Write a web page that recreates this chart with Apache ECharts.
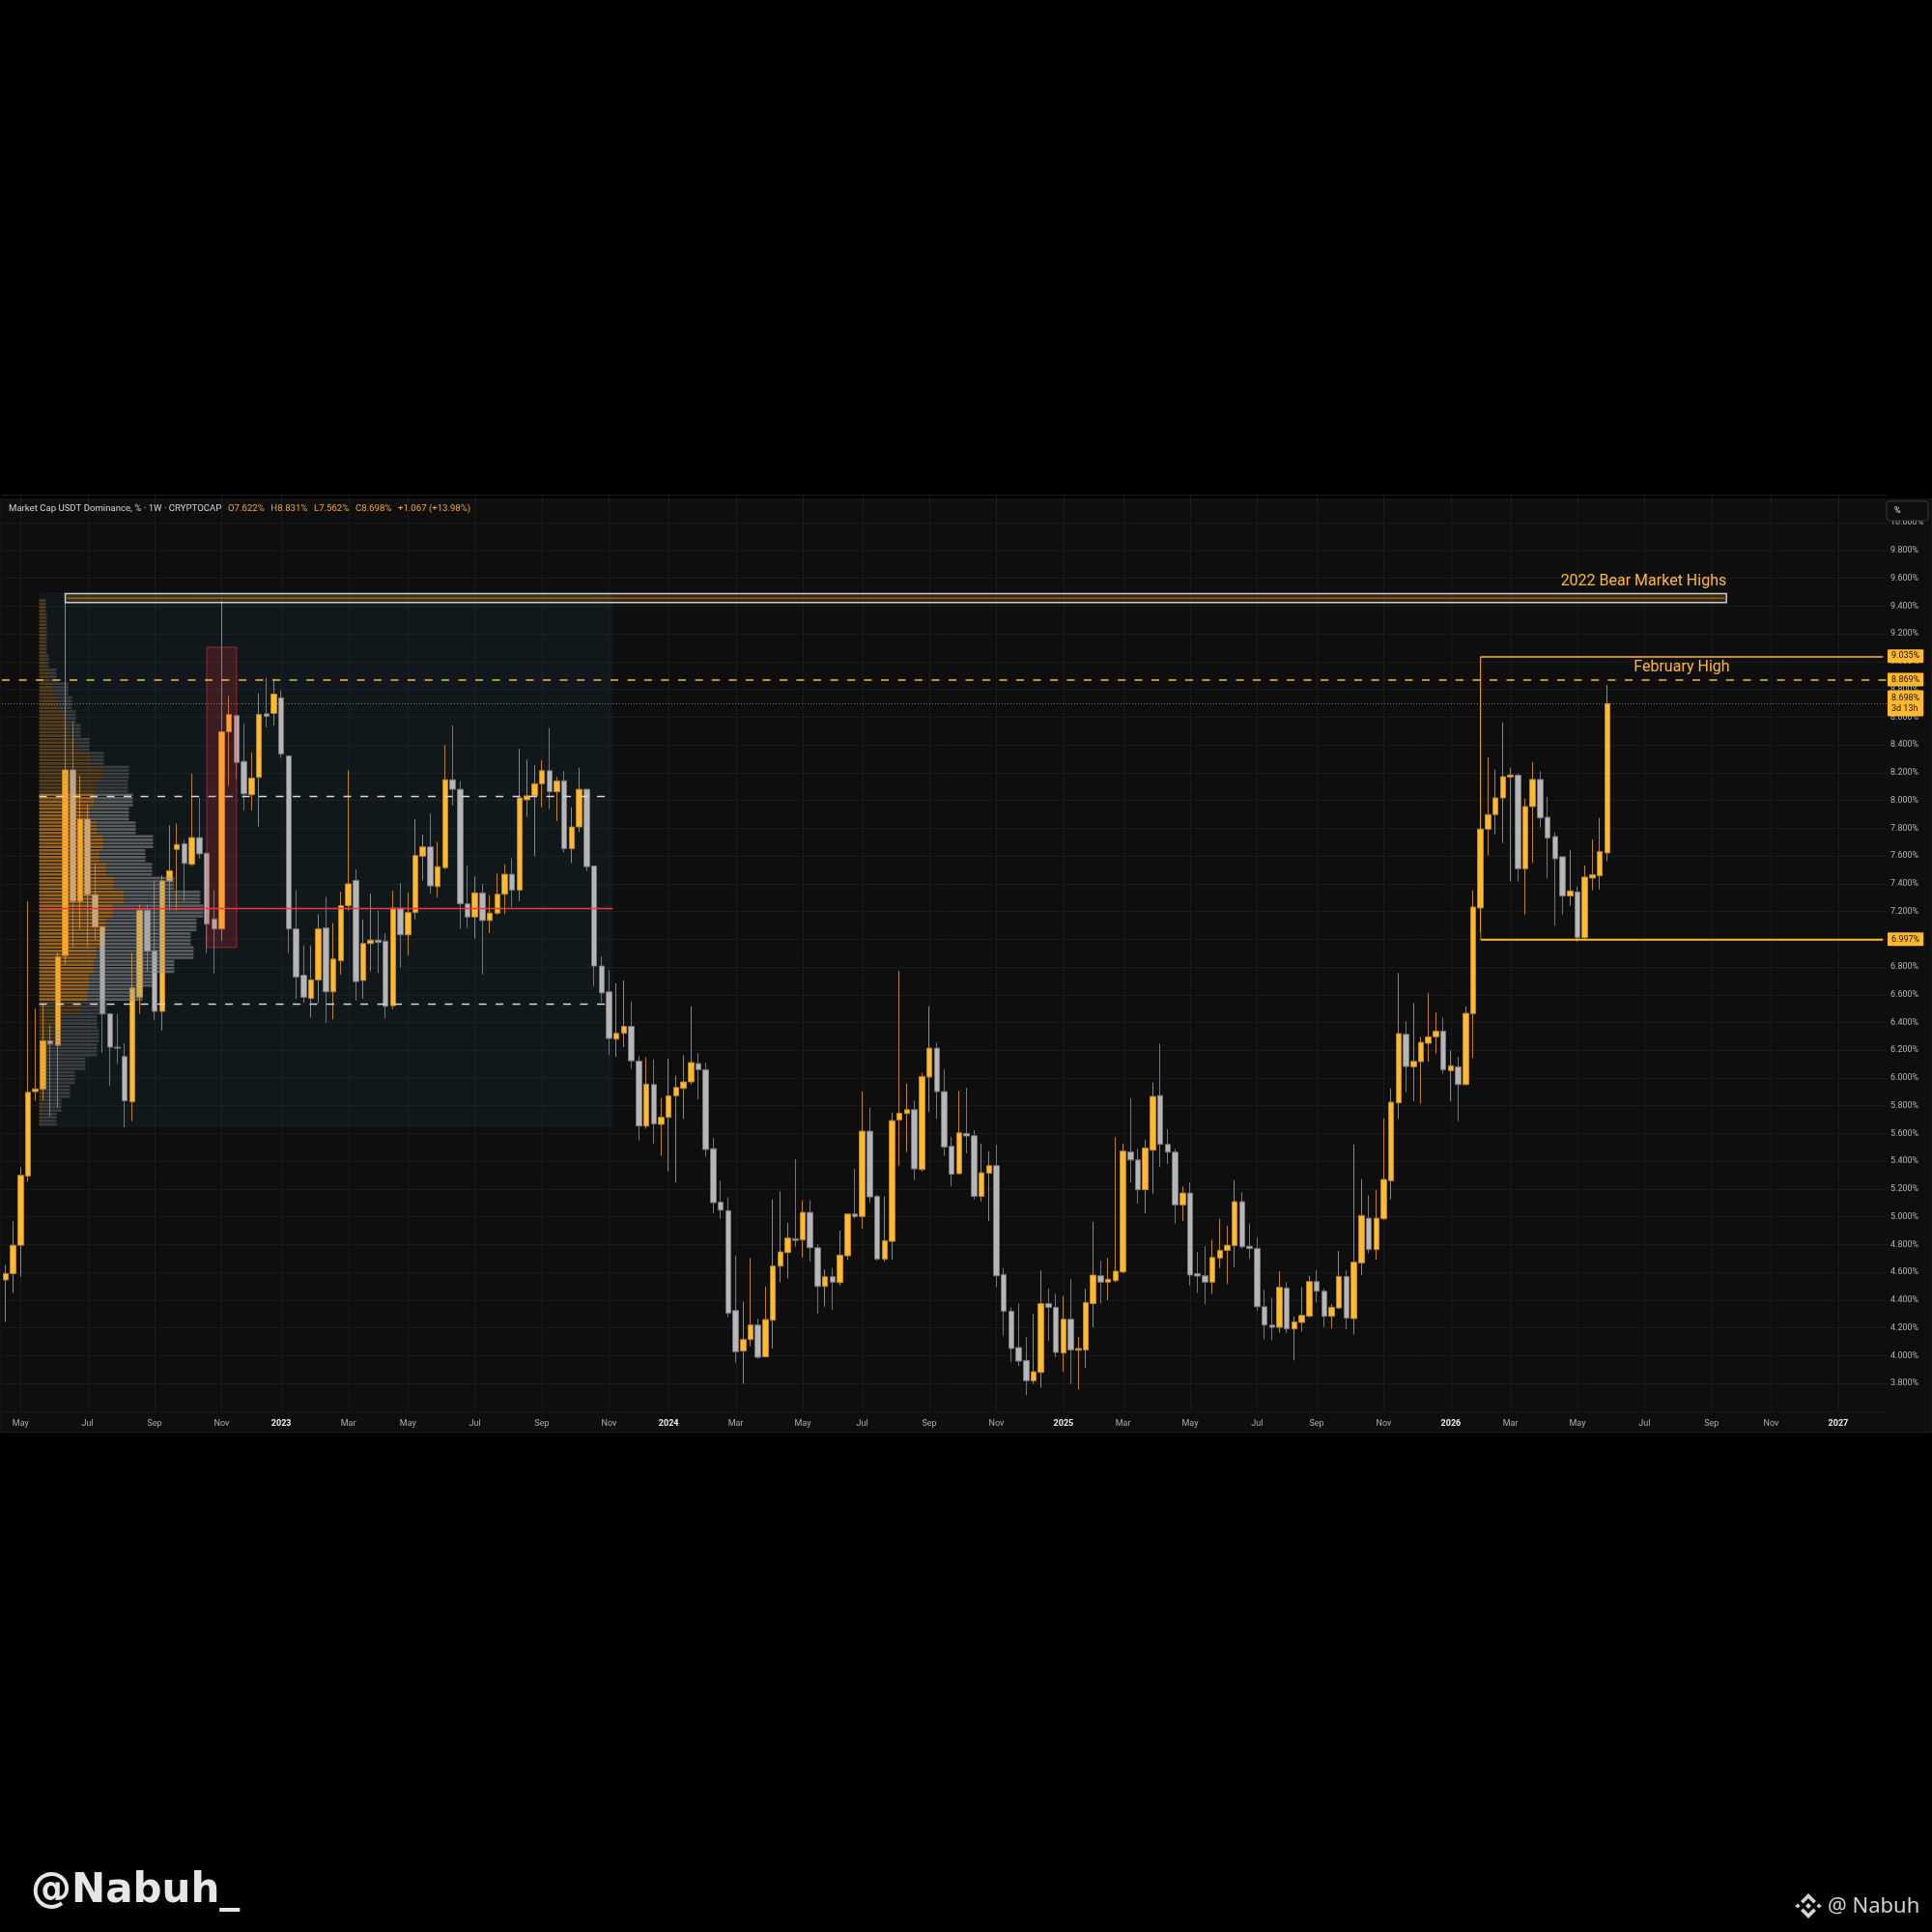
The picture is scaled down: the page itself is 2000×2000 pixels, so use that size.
<!DOCTYPE html>
<html>
<head>
<meta charset="utf-8">
<title>Market Cap USDT Dominance</title>
<script src="https://cdn.jsdelivr.net/npm/echarts@6/dist/echarts.min.js"></script>
<style>
  html, body { margin: 0; padding: 0; background: #000; }
  #chart { width: 2000px; height: 2000px; }
</style>
</head>
<body>
<div id="chart"></div>
<script>
// weekly bars, the first one is the week of 18 Apr 2022
var firstWeek = Date.UTC(2022, 3, 18);
var weekCount = 253; // axis runs on into Feb 2027

var open = [
  4.545, 4.591, 4.795, 5.294, 5.902, 5.921, 6.267, 6.235, 6.882, 8.220, 7.274, 7.865,
  7.322, 7.088, 6.462, 6.222, 6.155, 5.830, 6.582, 7.207, 6.915, 6.480, 7.420, 7.647,
  7.687, 7.540, 7.732, 7.620, 7.146, 7.074, 8.494, 8.611, 8.281, 8.041, 8.166, 8.624,
  8.627, 8.739, 8.321, 7.074, 6.741, 6.574, 6.707, 7.081, 6.621, 6.845, 7.242, 7.424,
  6.703, 6.969, 6.994, 6.986, 6.521, 7.225, 7.031, 7.192, 7.598, 7.665, 7.379, 7.516,
  8.149, 8.080, 7.255, 7.160, 7.334, 7.135, 7.188, 7.324, 7.468, 7.354, 8.005, 8.033,
  8.120, 8.214, 8.063, 8.142, 7.652, 7.809, 8.080, 7.528, 6.807, 6.621, 6.280, 6.322,
  6.372, 6.122, 5.654, 5.953, 5.666, 5.717, 5.872, 5.925, 5.972, 6.104, 6.060, 5.491,
  5.106, 5.044, 4.325, 4.034, 4.116, 4.220, 3.992, 4.255, 4.645, 4.742, 4.842, 4.835,
  5.032, 4.777, 4.498, 4.568, 4.526, 4.719, 5.020, 5.002, 5.617, 5.148, 4.696, 4.823,
  5.698, 5.744, 5.772, 5.341, 6.007, 6.215, 5.902, 5.508, 5.311, 5.601, 5.584, 5.148,
  5.315, 5.369, 4.584, 4.320, 4.058, 3.965, 3.819, 3.879, 4.375, 4.348, 4.019, 4.262,
  4.039, 4.041, 4.375, 4.575, 4.529, 4.540, 4.603, 5.468, 5.410, 5.195, 5.480, 5.874,
  5.522, 5.466, 5.086, 5.171, 4.591, 4.575, 4.529, 4.703, 4.758, 4.793, 5.109, 4.788,
  4.772, 4.352, 4.220, 4.204, 4.487, 4.192, 4.239, 4.285, 4.533, 4.464, 4.283, 4.343,
  4.570, 4.267, 4.668, 4.990, 4.765, 4.986, 5.260, 5.821, 6.315, 6.081, 6.118, 6.250,
  6.297, 6.338, 6.053, 6.081, 5.953, 6.464, 7.225, 7.793, 7.898, 8.018, 8.169, 8.181,
  7.508, 7.956, 8.151, 7.879, 7.740, 7.594, 7.311, 7.341, 7.011, 7.441, 7.457, 7.622
];
var high = [
  4.654, 4.967, 5.355, 7.274, 6.502, 6.528, 6.382, 6.907, 9.440, 8.566, 8.180, 7.967,
  7.550, 7.101, 6.470, 6.462, 6.249, 6.901, 7.250, 7.248, 7.420, 7.461, 7.820, 7.833,
  7.714, 8.193, 8.020, 7.620, 7.354, 9.440, 8.752, 8.620, 8.552, 8.345, 8.771, 8.885,
  8.877, 8.792, 8.326, 7.354, 6.955, 6.955, 7.181, 7.304, 7.118, 7.342, 8.217, 7.503,
  7.143, 7.329, 7.205, 7.043, 7.349, 7.404, 7.334, 7.864, 7.752, 7.906, 7.702, 8.398,
  8.540, 8.137, 7.528, 7.453, 7.399, 7.317, 7.473, 7.540, 7.583, 8.373, 8.294, 8.254,
  8.289, 8.522, 8.169, 8.212, 7.951, 8.234, 8.085, 7.528, 6.877, 6.777, 6.683, 6.703,
  6.551, 6.157, 6.150, 6.134, 5.856, 6.139, 6.018, 6.162, 6.517, 6.181, 6.111, 5.570,
  5.260, 5.141, 4.719, 4.389, 4.703, 4.266, 4.498, 5.125, 5.183, 4.956, 5.415, 5.120,
  5.120, 4.805, 4.621, 4.631, 4.900, 5.027, 5.345, 5.902, 5.786, 5.160, 5.148, 5.751,
  6.772, 5.960, 5.837, 6.037, 6.517, 6.255, 6.064, 5.577, 5.907, 5.930, 5.624, 5.526,
  5.473, 5.519, 4.631, 4.348, 4.375, 4.134, 4.301, 4.614, 4.482, 4.445, 4.429, 4.552,
  4.134, 4.482, 4.962, 4.684, 4.703, 5.573, 5.526, 5.856, 5.489, 5.554, 5.965, 6.246,
  5.631, 5.489, 5.218, 5.248, 4.747, 4.788, 4.835, 4.986, 4.935, 5.264, 5.178, 4.951,
  4.853, 4.475, 4.417, 4.608, 4.529, 4.283, 4.492, 4.575, 4.615, 4.482, 4.371, 4.754,
  4.615, 5.519, 5.271, 5.155, 5.194, 5.709, 5.925, 6.756, 6.408, 6.540, 6.297, 6.614,
  6.475, 6.436, 6.199, 6.153, 6.517, 7.352, 9.035, 8.311, 8.222, 8.563, 8.234, 8.195,
  8.014, 8.276, 8.211, 8.025, 7.770, 7.596, 7.642, 7.380, 7.531, 7.719, 7.874, 8.831
];
var low = [
  4.243, 4.452, 4.568, 5.253, 5.837, 5.841, 5.720, 5.786, 6.821, 6.941, 7.074, 6.949,
  6.990, 6.182, 5.942, 6.102, 5.644, 5.689, 6.462, 6.768, 6.420, 6.342, 7.207, 7.207,
  7.274, 7.527, 7.580, 6.901, 6.755, 6.986, 8.105, 8.153, 7.927, 7.927, 7.812, 8.526,
  8.539, 8.307, 6.901, 6.568, 6.541, 6.435, 6.541, 6.397, 6.422, 6.745, 7.205, 6.559,
  6.571, 6.770, 6.757, 6.429, 6.496, 6.795, 6.882, 7.143, 7.424, 7.329, 7.299, 7.503,
  7.963, 7.075, 7.081, 7.006, 6.745, 7.043, 7.175, 7.180, 7.230, 7.274, 7.881, 7.598,
  7.951, 7.938, 7.851, 7.627, 7.548, 7.772, 7.491, 6.663, 6.546, 6.166, 6.153, 6.223,
  6.066, 5.550, 5.635, 5.524, 5.438, 5.327, 5.246, 5.705, 5.953, 5.849, 5.434, 5.027,
  4.986, 4.278, 3.949, 3.795, 4.069, 3.977, 3.988, 4.051, 4.529, 4.556, 4.784, 4.707,
  4.677, 4.301, 4.352, 4.329, 4.505, 4.691, 4.986, 4.916, 5.101, 4.684, 4.677, 4.691,
  5.369, 5.466, 5.264, 5.327, 5.758, 5.705, 5.438, 5.218, 5.306, 5.457, 5.125, 5.109,
  4.969, 4.492, 4.143, 3.953, 3.926, 3.714, 3.796, 3.768, 4.104, 3.988, 3.884, 3.796,
  3.756, 3.911, 4.204, 4.375, 4.399, 4.529, 4.591, 5.246, 5.095, 5.025, 5.167, 5.357,
  5.380, 4.951, 4.969, 4.505, 4.452, 4.371, 4.445, 4.631, 4.515, 4.638, 4.770, 4.696,
  4.324, 4.116, 4.111, 4.167, 4.162, 3.965, 4.174, 4.273, 4.382, 4.204, 4.197, 4.336,
  4.190, 4.151, 4.580, 4.737, 4.691, 4.979, 5.125, 5.705, 5.898, 5.833, 5.814, 6.118,
  6.176, 6.030, 5.833, 5.689, 5.949, 6.146, 7.050, 7.603, 7.758, 7.693, 7.417, 7.415,
  7.178, 7.550, 7.805, 7.438, 7.097, 7.178, 7.241, 6.981, 6.993, 7.352, 7.359, 7.562
];
var close = [
  4.591, 4.795, 5.299, 5.897, 5.921, 6.267, 6.245, 6.874, 8.220, 7.274, 7.865, 7.322,
  7.088, 6.462, 6.222, 6.215, 5.836, 6.648, 7.207, 6.915, 6.480, 7.420, 7.493, 7.682,
  7.546, 7.732, 7.615, 7.109, 7.074, 8.494, 8.619, 8.273, 8.047, 8.161, 8.619, 8.606,
  8.766, 8.334, 7.074, 6.728, 6.582, 6.707, 7.074, 6.621, 6.857, 7.242, 7.399, 6.695,
  6.969, 6.994, 6.976, 6.516, 7.225, 7.031, 7.192, 7.603, 7.665, 7.384, 7.523, 8.149,
  8.080, 7.255, 7.160, 7.334, 7.135, 7.188, 7.324, 7.468, 7.354, 8.018, 8.033, 8.120,
  8.214, 8.063, 8.140, 7.652, 7.809, 8.080, 7.523, 6.807, 6.613, 6.285, 6.322, 6.372,
  6.124, 5.654, 5.956, 5.670, 5.717, 5.872, 5.932, 5.972, 6.111, 6.060, 5.485, 5.102,
  5.048, 4.306, 4.028, 4.116, 4.220, 3.988, 4.260, 4.645, 4.747, 4.847, 4.830, 5.032,
  4.777, 4.498, 4.568, 4.529, 4.724, 5.020, 5.002, 5.617, 5.143, 4.696, 4.828, 5.693,
  5.747, 5.772, 5.345, 6.011, 6.215, 5.902, 5.503, 5.306, 5.605, 5.582, 5.148, 5.317,
  5.369, 4.575, 4.320, 4.051, 3.960, 3.819, 3.884, 4.375, 4.348, 4.023, 4.262, 4.041,
  4.051, 4.382, 4.580, 4.529, 4.550, 4.608, 5.473, 5.410, 5.195, 5.496, 5.867, 5.522,
  5.466, 5.086, 5.171, 4.580, 4.573, 4.529, 4.707, 4.758, 4.795, 5.109, 4.784, 4.772,
  4.352, 4.220, 4.204, 4.492, 4.192, 4.243, 4.290, 4.533, 4.464, 4.283, 4.348, 4.570,
  4.271, 4.673, 5.009, 4.765, 4.990, 5.269, 5.826, 6.320, 6.083, 6.120, 6.257, 6.297,
  6.338, 6.060, 6.088, 5.953, 6.466, 7.232, 7.793, 7.898, 8.018, 8.171, 8.183, 7.508,
  7.956, 8.151, 7.874, 7.728, 7.580, 7.311, 7.348, 7.011, 7.448, 7.464, 7.631, 8.698
];

// fixed range volume profile (bars 5..81), lengths read in pixels off the picture
var vpLevels = [5.7, 5.8, 5.9, 6.0, 6.1, 6.2, 6.3, 6.4, 6.5, 6.6, 6.7, 6.8, 6.9, 7.0, 7.1, 7.2, 7.3, 7.4, 7.5,
                7.6, 7.7, 7.8, 7.9, 8.0, 8.1, 8.2, 8.3, 8.4, 8.5, 8.6, 8.7, 8.8, 8.9, 9.0, 9.1, 9.2, 9.3, 9.4];
var vpUp    = [3, 5, 5, 7, 8, 10, 15, 23, 43, 50, 52, 57, 60, 67, 70, 77, 88, 78, 70,
               63, 67, 60, 53, 57, 60, 67, 53, 38, 32, 27, 20, 15, 10, 7, 7, 7, 7, 6];
var vpTotal = [18, 23, 32, 37, 48, 60, 62, 60, 70, 107, 117, 140, 160, 157, 163, 170, 167, 140, 117,
               110, 118, 100, 93, 97, 92, 93, 67, 52, 43, 38, 34, 30, 18, 10, 8, 8, 8, 7];
var vpFrom = 5, vpTo = 81, vpLow = 5.645, vpHigh = 9.5;
var poc = 7.226, vah = 8.033, val = 6.534;

// drawings: [first bar, last bar, low, high]
var bearHighs = [8, 231, 9.425, 9.49];
var ftxBox = [27, 31, 6.941, 9.104];
var febBox = [198, 252, 6.997, 9.035];
var prevHigh = 8.869;

var MONTHS = ['Jan', 'Feb', 'Mar', 'Apr', 'May', 'Jun', 'Jul', 'Aug', 'Sep', 'Oct', 'Nov', 'Dec'];
var weeks = [];
for (var i = 0; i < weekCount; i++) weeks.push(new Date(firstWeek + i * 7 * 86400000));
var cats = weeks.map(function (d) { return d.toISOString().slice(0, 10); });

function tickName(i) {
  var d = weeks[i];
  if (!d || d.getUTCDate() > 7 || d.getUTCMonth() % 2 !== 0) return '';
  return d.getUTCMonth() === 0 ? '{y|' + d.getUTCFullYear() + '}' : MONTHS[d.getUTCMonth()];
}
var tickIdx = [];
for (var i = 0; i < weekCount; i++) if (tickName(i)) tickIdx.push(i);

var candles = open.map(function (o, i) { return [o, close[i], low[i], high[i]]; });
var last = open.length - 1;
var chg = close[last] - close[last - 1];

var UP = '#ffb92e', DOWN = '#b6b6b9';
var FONT = 'Roboto';

function bandEdges(api, i0, i1) {
  var bw = api.size([1, 0])[0];
  return [api.coord([i0, 5])[0] - bw / 2, api.coord([i1, 5])[0] + bw / 2];
}
function yPx(api, v) { return api.coord([0, v])[1]; }

var chart = echarts.init(document.getElementById('chart'));

var axisBox = {
  position: 'end', distance: 1, fontSize: 9, fontFamily: FONT, color: '#111',
  backgroundColor: UP, padding: [3, 4, 2, 4], borderRadius: 1
};
var hiddenLine = { width: 0, color: 'transparent' };

chart.setOption({
  backgroundColor: '#000',
  animation: false,
  grid: { left: 2, right: 47, top: 512.5, bottom: 539.2 },
  xAxis: {
    type: 'category', data: cats, boundaryGap: true,
    axisLine: { show: false }, axisTick: { show: false }, splitLine: { show: false },
    axisLabel: {
      interval: function (i) { return tickName(i) !== ''; },
      formatter: function (v, i) { return tickName(i); },
      color: '#a9acb4', fontSize: 9, fontFamily: FONT, margin: 8,
      rich: { y: { color: '#eeeeee', fontWeight: 'bold', fontSize: 9, fontFamily: FONT } }
    }
  },
  yAxis: {
    type: 'value', position: 'right', min: 3.6, max: 10.2, interval: 0.2,
    axisLine: { show: false }, axisTick: { show: false },
    splitLine: { lineStyle: { color: '#1b1b1b', width: 1 } },
    axisLabel: {
      color: '#b2b5be', fontSize: 9, fontFamily: FONT, margin: 4,
      formatter: function (v) { return (v < 3.7 || v > 10.1) ? '' : v.toFixed(3) + '%'; }
    }
  },
  graphic: [
    { type: 'rect', z: -1, silent: true, shape: { x: 0, y: 517, width: 2000, height: 966 },
      style: { fill: '#0e0e0e', stroke: '#1e1e1e', lineWidth: 1 } },
    { type: 'text', z: 100, x: 9, y: 527, silent: true,
      style: {
        text: '{t|Market Cap USDT Dominance, % · 1W · CRYPTOCAP}  ' +
              '{v|O' + open[last].toFixed(3) + '%}  {v|H' + high[last].toFixed(3) + '%}  ' +
              '{v|L' + low[last].toFixed(3) + '%}  {v|C' + close[last].toFixed(3) + '%}  ' +
              '{v|+' + chg.toFixed(3) + ' (+' + (chg / close[last - 1] * 100).toFixed(2) + '%)}',
        verticalAlign: 'middle',
        rich: {
          t: { fill: '#d1d4dc', fontSize: 9.6, fontFamily: FONT },
          v: { fill: '#f5a623', fontSize: 9.6, fontFamily: FONT }
        }
      } },
    { type: 'rect', z: 100, silent: true, shape: { x: 1953, y: 519, width: 43, height: 20, r: 3 },
      style: { fill: '#0e0e0e', stroke: '#3a3a3a', lineWidth: 1 } },
    { type: 'text', z: 101, x: 1961, y: 529, silent: true,
      style: { text: '%', fill: '#e0e0e0', fontSize: 9, fontFamily: FONT, verticalAlign: 'middle' } },
    { type: 'text', z: 100, x: 32, y: 1958, silent: true,
      style: { text: '@Nabuh_', fill: '#e6e6e6', font: 'bold 42px "DejaVu Sans"', verticalAlign: 'middle' } },
    { type: 'text', z: 100, x: 1892, y: 1974, silent: true,
      style: { text: '@ Nabuh', fill: '#d2d2d2', font: '22px "Noto Sans"', verticalAlign: 'middle' } },
    // binance mark
    { type: 'group', z: 100, x: 1872, y: 1973, silent: true, children: [
      { type: 'polygon', shape: { points: [[-11, -2.6], [-8.4, 0], [-11, 2.6], [-13.6, 0]] }, style: { fill: '#d2d2d2' } },
      { type: 'polygon', shape: { points: [[11, -2.6], [13.6, 0], [11, 2.6], [8.4, 0]] }, style: { fill: '#d2d2d2' } },
      { type: 'polygon', shape: { points: [[0, -3], [3, 0], [0, 3], [-3, 0]] }, style: { fill: '#d2d2d2' } },
      { type: 'polygon', shape: { points: [[0, -13], [8, -5], [5.4, -2.4], [0, -7.8], [-5.4, -2.4], [-8, -5]] }, style: { fill: '#d2d2d2' } },
      { type: 'polygon', shape: { points: [[0, 13], [8, 5], [5.4, 2.4], [0, 7.8], [-5.4, 2.4], [-8, 5]] }, style: { fill: '#d2d2d2' } }
    ] }
  ],
  series: [
    {
      // vertical grid at the date labels
      type: 'custom', z: 1, silent: true,
      data: tickIdx.map(function (i) { return [i, 5]; }),
      encode: { x: 0, y: 1 },
      renderItem: function (params, api) {
        var x = Math.round(api.coord([api.value(0), 5])[0]) + 0.5;
        var cs = params.coordSys;
        return { type: 'line', shape: { x1: x, y1: cs.y, x2: x, y2: cs.y + cs.height },
                 style: { stroke: '#1b1b1b', lineWidth: 1 } };
      }
    },
    {
      // volume profile range background
      type: 'custom', z: 1, silent: true,
      data: [[vpFrom, vpTo, vpLow, vpHigh]],
      encode: { x: [0, 1], y: [2, 3] },
      renderItem: function (params, api) {
        var e = bandEdges(api, api.value(0), api.value(1));
        var yT = yPx(api, api.value(3)), yB = yPx(api, api.value(2));
        return { type: 'rect', shape: { x: e[0], y: yT, width: e[1] - e[0], height: yB - yT },
                 style: { fill: 'rgba(40,95,120,0.12)' } };
      }
    },
    {
      type: 'candlestick', z: 2, barWidth: 6,
      data: candles,
      itemStyle: { color: UP, color0: DOWN, borderColor: '#b98224', borderColor0: '#76767a', borderWidth: 1 },
      markLine: {
        silent: true, symbol: ['none', 'none'], z: 6,
        data: [
          { yAxis: prevHigh, lineStyle: { color: UP, type: [8, 9.5], width: 1.5 },
            label: Object.assign({}, axisBox, { formatter: prevHigh.toFixed(3) + '%' }) },
          { yAxis: close[last], lineStyle: { color: 'rgba(255,185,46,0.55)', type: [1, 2], width: 1 },
            label: Object.assign({}, axisBox, { formatter: close[last].toFixed(3) + '%\n3d 13h', lineHeight: 11 }) },
          { yAxis: febBox[3], lineStyle: hiddenLine,
            label: Object.assign({}, axisBox, { formatter: febBox[3].toFixed(3) + '%' }) },
          { yAxis: febBox[2], lineStyle: hiddenLine,
            label: Object.assign({}, axisBox, { formatter: febBox[2].toFixed(3) + '%' }) }
        ]
      }
    },
    {
      // profile rows, drawn over the candles
      type: 'custom', z: 3, silent: true,
      data: vpLevels.map(function (lv, k) { return [vpFrom, lv, vpUp[k], vpTotal[k]]; }),
      encode: { x: 0, y: 1 },
      renderItem: function (params, api) {
        var e = bandEdges(api, vpFrom, vpTo);
        var maxVol = Math.max.apply(null, vpTotal);
        var k = (e[1] - e[0]) * 0.286 / maxVol;
        var lv = api.value(1), up = api.value(2), tot = api.value(3);
        var yT = yPx(api, lv + 0.05), yB = yPx(api, lv - 0.05);
        var inVA = lv >= val && lv <= vah;
        var upFill = inVA ? 'rgba(235,145,35,0.62)' : 'rgba(200,125,35,0.38)';
        var dnFill = inVA ? 'rgba(150,150,150,0.55)' : 'rgba(120,120,120,0.40)';
        var pitch = (yB - yT) / 4, kids = [];
        for (var s = 0; s < 4; s++) {
          var y = yT + s * pitch;
          kids.push({ type: 'rect', shape: { x: e[0], y: y, width: up * k, height: pitch * 0.72 }, style: { fill: upFill } });
          kids.push({ type: 'rect', shape: { x: e[0] + up * k, y: y, width: (tot - up) * k, height: pitch * 0.72 }, style: { fill: dnFill } });
        }
        return { type: 'group', children: kids };
      }
    },
    {
      // POC and value area edges
      type: 'custom', z: 4, silent: true,
      data: [[vpFrom, poc]],
      encode: { x: 0, y: 1 },
      renderItem: function (params, api) {
        var e = bandEdges(api, vpFrom, vpTo);
        function hl(v, stroke, dash) {
          var y = Math.round(yPx(api, v)) + 0.5;
          return { type: 'line', shape: { x1: e[0], y1: y, x2: e[1], y2: y },
                   style: { stroke: stroke, lineWidth: 1.5, lineDash: dash } };
        }
        return { type: 'group', children: [
          hl(vah, '#d8d8d8', [8, 9.5]), hl(val, '#d8d8d8', [8, 9.5]), hl(poc, '#f23645', null)
        ] };
      }
    },
    {
      // FTX week box
      type: 'custom', z: 4, silent: true,
      data: [ftxBox],
      encode: { x: [0, 1], y: [2, 3] },
      renderItem: function (params, api) {
        var x0 = api.coord([api.value(0), 5])[0], x1 = api.coord([api.value(1), 5])[0];
        var yT = yPx(api, api.value(3)), yB = yPx(api, api.value(2));
        return { type: 'rect', shape: { x: x0, y: yT, width: x1 - x0, height: yB - yT },
                 style: { fill: 'rgba(242,54,69,0.18)', stroke: 'rgba(242,54,69,0.55)', lineWidth: 1 } };
      }
    },
    {
      // 2022 bear market highs
      type: 'custom', z: 4, silent: true,
      data: [bearHighs],
      encode: { x: [0, 1], y: [2, 3] },
      renderItem: function (params, api) {
        var x0 = api.coord([api.value(0), 5])[0], x1 = api.coord([api.value(1), 5])[0];
        var yT = yPx(api, api.value(3)), yB = yPx(api, api.value(2));
        var ym = (yT + yB) / 2;
        return { type: 'group', children: [
          { type: 'rect', shape: { x: x0, y: yT, width: x1 - x0, height: yB - yT },
            style: { fill: 'rgba(255,170,40,0.16)', stroke: '#c9c9c9', lineWidth: 1.5 } },
          { type: 'line', shape: { x1: x0 + 2, y1: ym, x2: x1 - 2, y2: ym },
            style: { stroke: 'rgba(255,185,46,0.65)', lineWidth: 1 } },
          { type: 'text', x: x1, y: yT - 5,
            style: { text: '2022 Bear Market Highs', fill: UP, fontSize: 16, fontFamily: FONT,
                     align: 'right', verticalAlign: 'bottom' } }
        ] };
      }
    },
    {
      // February high range
      type: 'custom', z: 4, silent: true,
      data: [febBox],
      encode: { x: [0, 1], y: [2, 3] },
      renderItem: function (params, api) {
        var x0 = api.coord([api.value(0), 5])[0], x1 = api.coord([api.value(1), 5])[0];
        var yT = yPx(api, api.value(3)), yB = yPx(api, api.value(2));
        return { type: 'group', children: [
          { type: 'line', shape: { x1: x0, y1: yT, x2: x0, y2: yB }, style: { stroke: 'rgba(255,185,46,0.6)', lineWidth: 1 } },
          { type: 'line', shape: { x1: x0, y1: yT, x2: x1, y2: yT }, style: { stroke: UP, lineWidth: 1.5 } },
          { type: 'line', shape: { x1: x0, y1: yB, x2: x1, y2: yB }, style: { stroke: UP, lineWidth: 2 } },
          { type: 'text', x: (x0 + x1) / 2, y: yT + 3,
            style: { text: 'February High', fill: UP, fontSize: 16, fontFamily: FONT,
                     align: 'center', verticalAlign: 'top' } }
        ] };
      }
    }
  ]
});
</script>
</body>
</html>
